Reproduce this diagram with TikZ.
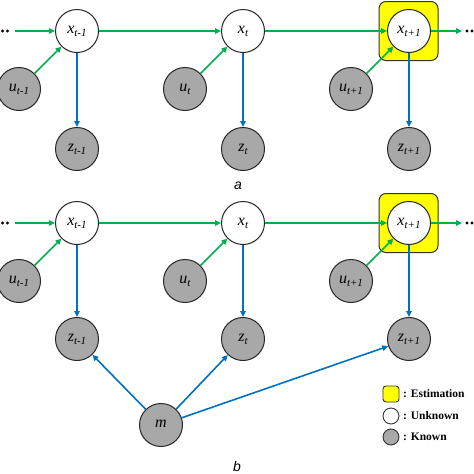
\documentclass[tikz,border=0pt]{standalone}
\usepackage{fontspec}
\setmainfont{Liberation Serif}
\newfontfamily\sansf{Liberation Sans}
\usetikzlibrary{arrows.meta}
\definecolor{gfill}{RGB}{168,168,168}
\definecolor{edgegreen}{RGB}{0,176,80}
\definecolor{edgeblue}{RGB}{0,112,192}
\definecolor{boxyellow}{RGB}{255,255,0}
\newcommand\lab[2]{\fontsize{16}{16}\selectfont\itshape #1\raisebox{-0.4ex}{\fontsize{11}{11}\selectfont\itshape #2}}
\tikzset{
  unk/.style={circle,draw=black!85,line width=1pt,fill=white,minimum size=43pt,inner sep=0pt},
  kno/.style={circle,draw=black!85,line width=1pt,fill=gfill,minimum size=43pt,inner sep=0pt},
  estbox/.style={rectangle,rounded corners=7pt,draw=black!80,line width=1pt,fill=boxyellow,minimum size=59pt,inner sep=0pt},
  garr/.style={draw=edgegreen,line width=1.6pt,-{Triangle[length=6pt,width=5.5pt]}},
  barr/.style={draw=edgeblue,line width=1.6pt,-{Triangle[length=6pt,width=5.5pt]}},
  dotn/.style={circle,fill=black,inner sep=0pt,minimum size=3.4pt},
  legtxt/.style={anchor=west,inner sep=0pt,font=\fontsize{11.5}{12}\selectfont\bfseries},
  captxt/.style={font=\sansf\itshape\fontsize{14}{14}\selectfont}
}
\begin{document}
\begin{tikzpicture}[x=1pt,y=-1pt]
\useasboundingbox (0,0) rectangle (474,474);
% ---------- panel a ----------
\node[estbox] (ba) at (408.5,31) {};
\node[unk] (xa1) at (77,31) {\lab{x}{t-1}};
\node[unk] (xa2) at (243,31) {\lab{x}{t}};
\node[unk] (xa3) at (409,31) {\lab{x}{t+1}};
\node[kno] (ua1) at (19,89) {\lab{u}{t-1}};
\node[kno] (ua2) at (185,89) {\lab{u}{t}};
\node[kno] (ua3) at (351,89) {\lab{u}{t+1}};
\node[kno] (za1) at (77,149) {\lab{z}{t-1}};
\node[kno] (za2) at (243,149) {\lab{z}{t}};
\node[kno] (za3) at (409,149) {\lab{z}{t+1}};
\node[dotn] (dla1) at (2.5,31) {};
\node[dotn] (dla2) at (7.5,31) {};
\node[dotn] (dra1) at (467,31) {};
\node[dotn] (dra2) at (472,31) {};
\coordinate (sa) at (15,31);
\coordinate (ea) at (462,31);
\draw[garr] (sa) -- (xa1);
\draw[garr] (xa1) -- (xa2);
\draw[garr] (xa2) -- (xa3);
\draw[garr] (xa3) -- (ea);
\draw[garr] (ua1) -- (xa1);
\draw[garr] (ua2) -- (xa2);
\draw[garr] (ua3) -- (xa3);
\draw[barr] (xa1) -- (za1);
\draw[barr] (xa2) -- (za2);
\draw[barr] (xa3) -- (za3);
\node[captxt] (capa) at (238,186) {a};
% ---------- panel b ----------
\node[estbox] (bb) at (408.5,223) {};
\node[unk] (xb1) at (77,223) {\lab{x}{t-1}};
\node[unk] (xb2) at (243,223) {\lab{x}{t}};
\node[unk] (xb3) at (409,223) {\lab{x}{t+1}};
\node[kno] (ub1) at (19,281) {\lab{u}{t-1}};
\node[kno] (ub2) at (185,281) {\lab{u}{t}};
\node[kno] (ub3) at (351,281) {\lab{u}{t+1}};
\node[kno] (zb1) at (77,339) {\lab{z}{t-1}};
\node[kno] (zb2) at (243,339) {\lab{z}{t}};
\node[kno] (zb3) at (409,339) {\lab{z}{t+1}};
\node[kno] (m) at (161,425) {\lab{m}{}};
\node[dotn] (dlb1) at (2.5,223) {};
\node[dotn] (dlb2) at (7.5,223) {};
\node[dotn] (drb1) at (467,223) {};
\node[dotn] (drb2) at (472,223) {};
\coordinate (sb) at (15,223);
\coordinate (eb) at (462,223);
\draw[garr] (sb) -- (xb1);
\draw[garr] (xb1) -- (xb2);
\draw[garr] (xb2) -- (xb3);
\draw[garr] (xb3) -- (eb);
\draw[garr] (ub1) -- (xb1);
\draw[garr] (ub2) -- (xb2);
\draw[garr] (ub3) -- (xb3);
\draw[barr] (xb1) -- (zb1);
\draw[barr] (xb2) -- (zb2);
\draw[barr] (xb3) -- (zb3);
\draw[barr] (m) -- (zb1);
\draw[barr] (m) -- (zb2);
\draw[barr] (m) -- (zb3);
\node[captxt] (capb) at (237,466) {b};
% ---------- legend ----------
\node[rectangle,rounded corners=3pt,draw=black!80,line width=0.9pt,fill=boxyellow,minimum size=16pt,inner sep=0pt] (le) at (391,394) {};
\node[circle,draw=black!80,line width=0.9pt,fill=white,minimum size=16pt,inner sep=0pt] (lu) at (391,416) {};
\node[circle,draw=black!80,line width=0.9pt,fill=gfill,minimum size=16pt,inner sep=0pt] (lk) at (391,437) {};
\node[legtxt] (te) at (403,394) {: Estimation};
\node[legtxt] (tu) at (403,416) {: Unknown};
\node[legtxt] (tk) at (403,437) {: Known};
\end{tikzpicture}
\end{document}
